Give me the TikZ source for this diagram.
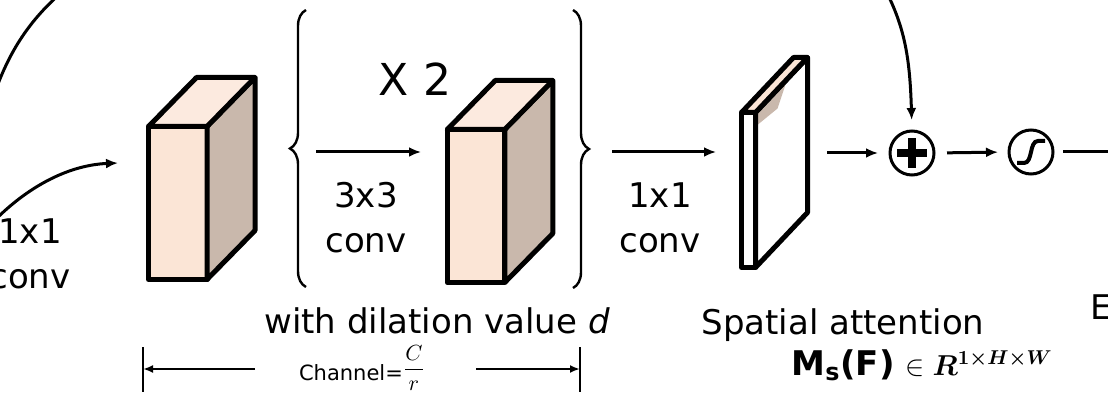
\documentclass[tikz,border=0pt]{standalone}
\usepackage{fontspec}
\setmainfont{DejaVu Sans}
\usepackage{amsmath}
\usepackage{bm}
\usetikzlibrary{arrows.meta,decorations.pathreplacing}
\definecolor{peachfront}{HTML}{FBE5D6}
\definecolor{peachtop}{HTML}{FCEADF}
\definecolor{peachside}{HTML}{C9B8AC}
\pgfdeclareverticalshading{slabfade}{100bp}{color(0bp)=(white); color(78bp)=(white); color(90bp)=(peachfront); color(100bp)=(peachfront)}
\begin{document}
\begin{tikzpicture}[x=0.5pt,y=-0.5pt,
  face/.style={draw,line width=2.5pt,line join=round,inner sep=0pt,outer sep=0pt},
  conn/.style={line width=1.5pt,-{Latex[length=6pt,width=5pt]}},
  dim/.style={line width=1pt},
  op/.style={draw,circle,line width=1.5pt,minimum size=22pt,inner sep=0pt,outer sep=0pt},
  lbl/.style={font=\fontsize{17}{22.5}\selectfont,align=center,inner sep=0pt},
  brc/.style={line width=1.2pt,decorate,decoration={brace,amplitude=8pt}}]
\useasboundingbox (0,0) rectangle (1108,406);
\node[face,fill=peachfront,minimum width=29.25pt,minimum height=76.5pt] (F1) at (177.75,203) {};
\draw[face,fill=peachside] (F1.north east) -- ++(48,-49) -- ++(0,153) -- (F1.south east) -- cycle;
\draw[face,fill=peachtop] (F1.north west) -- ++(48,-49) -- ++(58.5,0) -- (F1.north east) -- cycle;
\node[face,fill=peachfront,minimum width=28.75pt,minimum height=76.5pt] (F2) at (476,206) {};
\draw[face,fill=peachside] (F2.north east) -- ++(48,-49) -- ++(0,153) -- (F2.south east) -- cycle;
\draw[face,fill=peachtop] (F2.north west) -- ++(48,-49) -- ++(57.5,0) -- (F2.north east) -- cycle;
\node[face,shade,shading=slabfade,minimum width=7pt,minimum height=77.5pt] (S) at (748.5,190) {};
\fill[white] (S.north east) -- ++(52,-55) -- ++(0,155) -- (S.south east) -- cycle;
\fill[peachside] (S.north east) -- ++(32,-34) -- ++(-10,30) -- ++(-22,18) -- cycle;
\draw[face] (S.north east) -- ++(52,-55) -- ++(0,155) -- (S.south east) -- cycle;
\draw[face,fill=peachfront] (S.north west) -- ++(52,-55) -- ++(14,0) -- (S.north east) -- cycle;
\draw[brc] (306,287) -- (306,10);
\draw[brc] (573,10) -- (573,288);
\node[lbl,anchor=base] (x2) at (415,96) {\fontsize{22}{26}\selectfont X 2};
\node[lbl] (k3) at (366,218) {3x3\\conv};
\node[lbl] (k1) at (660,218) {1x1\\conv};
\node[lbl] (k0) at (30,254) {1x1\\conv};
\node[lbl,anchor=base] (dil) at (437,333) {with dilation value \textit{d}};
\node[lbl,anchor=base] (sa) at (843,335) {Spatial attention};
\node[lbl,anchor=base] (ms) at (922,375) {\textbf{M\textsubscript{s}(F)} {\fontsize{14}{16}\selectfont$\in\bm{R}^{\bm{1\times H\times W}}$}};
\node[anchor=base,inner sep=0pt] (ch) at (362,380) {\fontsize{10.5}{12}\selectfont Channel=\raisebox{2.5pt}{$\dfrac{C}{r}$}};
\node[lbl,anchor=base west] (e) at (1090,320) {E};
\node[op] (P) at (912,153) {};
\draw[line width=3.8pt] ([xshift=-7.5pt]P.center) -- ([xshift=7.5pt]P.center);
\draw[line width=3.8pt] ([yshift=-7.5pt]P.center) -- ([yshift=7.5pt]P.center);
\node[op] (G) at (1031,152) {};
\draw[line width=2pt] (1017,163) -- (1024,163) .. controls (1033,163) and (1029,141) .. (1038,141) -- (1045,141);
\coordinate (b1) at (316,152);
\coordinate (b2) at (421,152);
\coordinate (b3) at (612,152);
\coordinate (b4) at (716,152);
\coordinate (s1) at (827,153);
\coordinate (in1) at (118,163);
\coordinate (top1) at (888,-5);
\coordinate (out1) at (1115,152);
\draw[conn] (b1) -- (b2);
\draw[conn] (b3) -- (b4);
\draw[conn,shorten >=6pt] (s1) -- (P.west);
\draw[conn,shorten <=6.5pt,shorten >=5.5pt] (P.east) -- (G.west);
\draw[line width=1.5pt,shorten <=5pt] (G.east) -- (out1);
\draw[conn,shorten >=5.5pt] (top1) .. controls (905,30) and (910,60) .. (P.north);
\draw[line width=1.5pt] (-5,92) .. controls (10,50) and (30,20) .. (62,-8);
\draw[conn] (-5,220) .. controls (30,185) and (70,165) .. (in1);
\draw[dim] (143,347) -- (143,392);
\draw[dim] (580,347) -- (580,392);
\draw[dim,-{Latex[length=5pt,width=4pt]}] (255,369) -- (143,369);
\draw[dim,-{Latex[length=5pt,width=4pt]}] (476,369) -- (580,369);
\end{tikzpicture}
\end{document}
